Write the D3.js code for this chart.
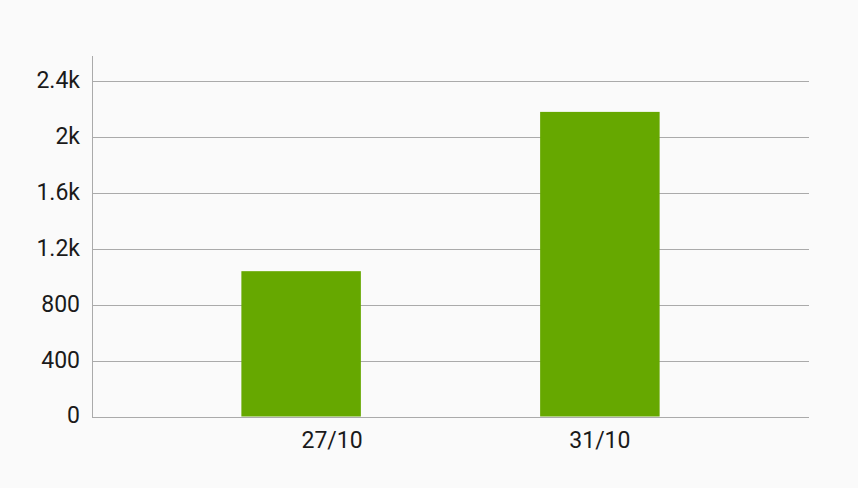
<!DOCTYPE html>
<html>
<head>
<meta charset="utf-8">
<script src="https://cdn.jsdelivr.net/npm/d3@7"></script>
<style>
  html, body { margin: 0; padding: 0; background: #fafafa; }
  svg { display: block; }
  text { font-family: Roboto, "Noto Sans", sans-serif; }
</style>
</head>
<body>
<svg id="chart" width="858" height="488"></svg>
<script>
const categories = ["27/10", "31/10"];
const values = [1040, 2180];
const yTickValues = [0, 400, 800, 1200, 1600, 2000, 2400];
const yTickLabels = ["0", "400", "800", "1.2k", "1.6k", "2k", "2.4k"];
const yMax = 2580;

(function () {
const svg = d3.select("#chart");
const mLeft = 92, mRight = 809, mTop = 56, mBottom = 416.5;

const x = d3.scaleBand().domain(categories).range([mLeft, mRight])
  .paddingInner(0.6).paddingOuter(0.5);
const y = d3.scaleLinear().domain([0, yMax]).range([mBottom, mTop]);

svg.append("rect").attr("width", 858).attr("height", 488).attr("fill", "#fafafa");

// gridlines
svg.append("g").selectAll("line").data(yTickValues).join("line")
  .attr("x1", mLeft).attr("x2", mRight)
  .attr("y1", d => Math.round(y(d)) + 0.5).attr("y2", d => Math.round(y(d)) + 0.5)
  .attr("stroke", "#aaaaaa").attr("stroke-width", 1);

// y axis line
svg.append("line")
  .attr("x1", mLeft + 0.5).attr("x2", mLeft + 0.5)
  .attr("y1", y(yMax)).attr("y2", Math.round(y(0)) + 0.5)
  .attr("stroke", "#aaaaaa").attr("stroke-width", 1);

// bars
svg.append("g").selectAll("rect").data(values).join("rect")
  .attr("x", (d, i) => x(categories[i]))
  .attr("width", x.bandwidth())
  .attr("y", d => y(d))
  .attr("height", d => y(0) - y(d))
  .attr("fill", "#66a800");

// y axis labels
const yAxis = d3.axisLeft(y).tickValues(yTickValues)
  .tickFormat((d, i) => yTickLabels[i]).tickSize(0).tickPadding(12);
const gy = svg.append("g").attr("transform", `translate(${mLeft},0)`).call(yAxis);
gy.select(".domain").remove();
gy.selectAll("text").attr("font-size", 23).attr("fill", "#1a1a1a")
  .attr("font-family", "Roboto, sans-serif").attr("dy", "0.28em");

// x axis labels
const labelShift = [31, 0];
const xAxis = d3.axisBottom(x).tickSize(0).tickPadding(15);
const gx = svg.append("g").attr("transform", `translate(0,${mBottom})`).call(xAxis);
gx.select(".domain").remove();
gx.selectAll("text").attr("font-size", 23).attr("fill", "#1a1a1a")
  .attr("font-family", "Roboto, sans-serif")
  .attr("x", (d, i) => labelShift[i]);
})();
</script>
</body>
</html>
